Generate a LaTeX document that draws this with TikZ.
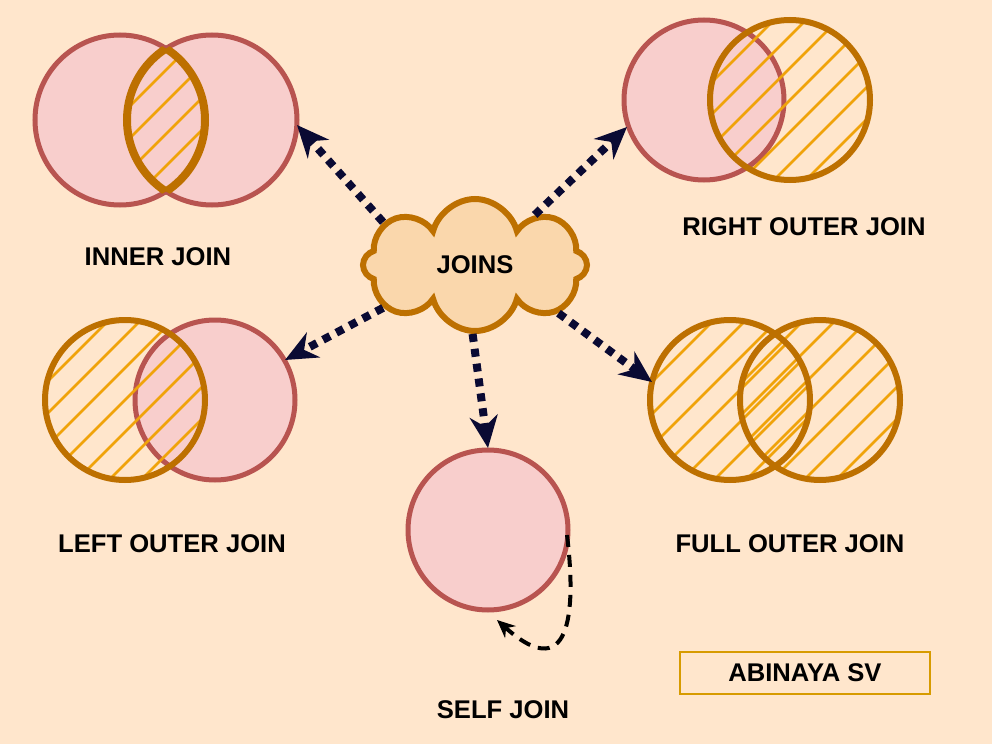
\documentclass[tikz,border=0pt]{standalone}
\usepackage{fontspec}
\setmainfont{Liberation Sans}
\usetikzlibrary{shapes.symbols,arrows.meta,calc}
\definecolor{bg}{HTML}{FFE6CC}
\definecolor{pinkf}{HTML}{F8CECC}
\definecolor{pinkd}{HTML}{B85450}
\definecolor{ord}{HTML}{BD7000}
\definecolor{hat}{HTML}{F0A30A}
\definecolor{cloudf}{HTML}{FAD7AC}
\definecolor{navy}{HTML}{0A0A33}
\definecolor{boxd}{HTML}{D79B00}
\newcommand\hatchc[2]{\begin{scope}\clip (#1) circle (#2);
 \foreach \i in {-5,...,5} \draw[hat,line width=1.3pt] ($(#1)+(\i*32-100,100)$) -- ++(200,-200);\end{scope}}
\begin{document}
\begin{tikzpicture}[x=0.5pt,y=-0.5pt,
 pinkc/.style={fill=pinkf,draw=pinkd,line width=2.5pt},
 orc/.style={draw=ord,line width=3pt},
 lbl/.style={font=\fontsize{12.8}{15}\selectfont\bfseries},
 arr/.style={draw=navy,line width=4pt,dash pattern=on 4pt off 3.5pt,-{Stealth[length=16pt,width=14pt]}}]
\fill[bg] (0,0) rectangle (992,744);
\useasboundingbox (0,0) rectangle (992,744);
% coordinates
\coordinate (i1) at (120,120); \coordinate (i2) at (212,120);
\coordinate (r1) at (704,100); \coordinate (r2) at (790,100);
\coordinate (l1) at (125,400); \coordinate (l2) at (215,400);
\coordinate (f1) at (730,400); \coordinate (f2) at (820,400);
\coordinate (s) at (488,530);
% inner join
\draw[pinkc] (i1) circle (85); \draw[pinkc] (i2) circle (85);
\begin{scope}\clip (i1) circle (85); \hatchc{i2}{85} \draw[orc,line width=4pt] (i2) circle (85);\end{scope}
\begin{scope}\clip (i2) circle (85); \draw[orc,line width=4pt] (i1) circle (85);\end{scope}
\node[lbl] (tinner) at (158,257) {INNER JOIN};
% right outer
\draw[pinkc] (r1) circle (80);
\hatchc{r2}{80} \draw[orc] (r2) circle (80);
\node[lbl] (tright) at (804,227) {RIGHT OUTER JOIN};
% left outer
\draw[pinkc] (l2) circle (80);
\hatchc{l1}{80} \draw[orc] (l1) circle (80);
\node[lbl] (tleft) at (172,544) {LEFT OUTER JOIN};
% full outer
\hatchc{f1}{80} \hatchc{f2}{80}
\draw[orc] (f1) circle (80); \draw[orc] (f2) circle (80);
\node[lbl] (tfull) at (790,544) {FULL OUTER JOIN};
% self
\draw[pinkc] (s) circle (80);
\node[lbl] (tself) at (503,710) {SELF JOIN};
\coordinate (sa) at (567,535); \coordinate (sb) at (497,620);
\draw[black,line width=2pt,dash pattern=on 6pt off 4pt,-{Stealth[length=9pt,width=8pt]}]
 (sa) .. controls (575,600) and (575,690) .. (sb);
% box
\node[draw=boxd,line width=1pt,minimum width=125pt,minimum height=21pt,lbl] (ab) at (805,673) {ABINAYA SV};
% cloud
\node[cloud,cloud puffs=8,aspect=1.9,fill=cloudf,draw=ord,line width=3pt,minimum width=112pt,minimum height=66pt,lbl] (joins) at (475,265) {JOINS};
% arrows
\coordinate (ta) at (297,125); \coordinate (tb) at (627,127); \coordinate (tc) at (285,360);
\coordinate (td) at (488,448); \coordinate (te) at (652,382);
\draw[arr] (joins.155) -- (ta);
\draw[arr] (joins.40) -- (tb);
\draw[arr] (joins.205) -- (tc);
\draw[arr] (joins.268) -- (td);
\draw[arr] (joins.330) -- (te);
\end{tikzpicture}
\end{document}
